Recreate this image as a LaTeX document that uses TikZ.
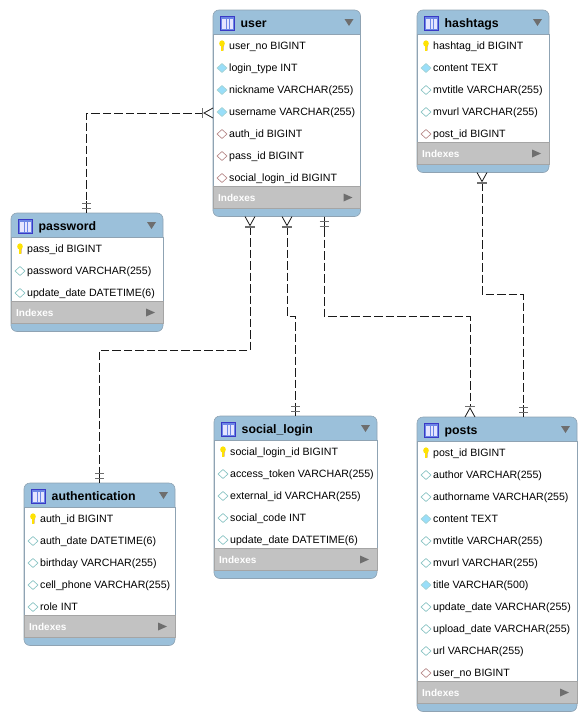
\documentclass[tikz,border=0pt]{standalone}
\usepackage{fontspec}
\setmainfont{Liberation Sans}
\usetikzlibrary{arrows.meta}
\definecolor{kopf}{HTML}{9BC0DA}
\definecolor{rand}{HTML}{8FA3B3}
\definecolor{idx}{HTML}{C2C2C2}
\definecolor{grau}{HTML}{6E6E6E}
\definecolor{kante}{HTML}{1A1A1A}
\tikzset{
  tbl/.style={draw=rand,fill=kopf,rounded corners=6pt,line width=0.6pt,outer sep=0pt,inner sep=0pt,anchor=north west},
  titel/.style={anchor=west,inner sep=0pt,text height=9.5pt,text depth=2.5pt,font=\bfseries\fontsize{12.3}{14}\selectfont},
  feld/.style={anchor=west,inner sep=0pt,text height=7.5pt,text depth=2.5pt,text=black,font=\fontsize{10.6}{12}\selectfont},
  idxtxt/.style={anchor=west,inner sep=0pt,text height=7.5pt,text depth=0.5pt,text=white,font=\bfseries\fontsize{10}{12}\selectfont},
  rel/.style={kante,line width=0.8pt,dash pattern=on 8.5pt off 3pt},
  strich/.style={kante,line width=0.8pt},
  pics/pk/.style={code={
    \fill[yellow!85!orange] (0,-2.5) ellipse (2.8pt and 3.2pt);
    \fill[yellow!85!orange] (-1.3,-1) rectangle (1.3,4.5);
    \draw[orange!70!black,line width=0.3pt] (1.6,0)--(1.4,4.5);}},
  pics/nn/.style={code={\draw[fill=cyan!40!white,draw=teal!35!white,line width=0.6pt] (-5,0)--(0,-4.5)--(5,0)--(0,4.5)--cycle;}},
  pics/nl/.style={code={\draw[fill=white,draw=teal!50!white,line width=0.6pt] (-5,0)--(0,-4.5)--(5,0)--(0,4.5)--cycle;}},
  pics/fk/.style={code={\draw[fill=white,draw=red!25!gray!80!white,line width=0.6pt] (-5,0)--(0,-4.5)--(5,0)--(0,4.5)--cycle;}},
  pics/krahe/.style={code={
    \draw[strich] (-5,0)--(0,9)--(5,0);
    \draw[grau,line width=1.1pt] (-5,10.5)--(5,10.5);}},
  pics/eins/.style={code={
    \draw[strich] (0,0)--(0,12);
    \draw[grau,line width=0.9pt] (-4.5,5)--(4.5,5);
    \draw[grau,line width=0.9pt] (-4.5,10)--(4.5,10);}},
}
% Tabelle: name, x, y, breite, titel, zeilen, felder
\newcommand{\erdtbl}[7]{
  \pgfmathsetmacro{\hges}{52.5+22*#6}
  \pgfmathsetmacro{\yrow}{#3+22.5+22*#6}
  \pgfmathsetmacro{\yidx}{\yrow+21.5}
  \pgfmathsetmacro{\xr}{#2+#4}
  \node[tbl,minimum width=#4pt,minimum height=\hges pt] (#1) at (#2,#3) {};
  \filldraw[fill=white,draw=rand,line width=0.5pt] (#2,#3+24.5) rectangle (\xr,\yrow);
  \filldraw[fill=idx,draw=idx!85!black,line width=0.5pt] (#2,\yrow) rectangle (\xr,\yidx);
  % Kopf
  \filldraw[fill=blue!30!kopf,draw=blue!55!gray,line width=0.6pt] (#2+7,#3+6) rectangle (#2+21,#3+20);
  \fill[blue!10!white] (#2+9,#3+9) rectangle (#2+12.5,#3+18.5);
  \fill[blue!10!white] (#2+13.5,#3+9) rectangle (#2+15.5,#3+18.5);
  \fill[blue!10!white] (#2+16.5,#3+9) rectangle (#2+19.5,#3+18.5);
  \node[titel] (#1-titel) at (#2+27.5,#3+14) {#5};
  \fill[grau] (\xr-16,#3+9)--(\xr-7,#3+9)--(\xr-11.5,#3+16)--cycle;
  % Felder
  \foreach \art/\txt [count=\i] in {#7}{
    \pgfmathsetmacro{\yf}{#3+14+22*\i}
    \path (#2+9,\yf) pic {\art};
    \node[feld] (#1-f\i) at (#2+16,\yf+1) {\txt};
  }
  \node[idxtxt] (#1-idx) at (#2+5,\yrow+11.5) {Indexes};
  \fill[grau] (\xr-17,\yrow+7)--(\xr-8,\yrow+11)--(\xr-17,\yrow+15)--cycle;
}
\begin{document}
\begin{tikzpicture}[x=1pt,y=-1pt]
  \useasboundingbox (0,0) rectangle (586,720);
  \erdtbl{user}{213}{10}{147.5}{user}{7}{pk/user\_no BIGINT,nn/login\_type INT,nn/nickname VARCHAR(255),nn/username VARCHAR(255),fk/auth\_id BIGINT,fk/pass\_id BIGINT,fk/social\_login\_id BIGINT}
  \erdtbl{hashtags}{417}{10}{132}{hashtags}{5}{pk/hashtag\_id BIGINT,nn/content TEXT,nl/mvtitle VARCHAR(255),nl/mvurl VARCHAR(255),fk/post\_id BIGINT}
  \erdtbl{password}{11}{213}{152}{password}{3}{pk/pass\_id BIGINT,nl/password VARCHAR(255),nl/update\_date DATETIME(6)}
  \erdtbl{authentication}{24}{483}{151}{authentication}{5}{pk/auth\_id BIGINT,nl/auth\_date DATETIME(6),nl/birthday VARCHAR(255),nl/cell\_phone VARCHAR(255),nl/role INT}
  \erdtbl{social}{214}{416}{163}{social\_login}{5}{pk/social\_login\_id BIGINT,nl/access\_token VARCHAR(255),nl/external\_id VARCHAR(255),nl/social\_code INT,nl/update\_date DATETIME(6)}
  \erdtbl{posts}{417}{417}{160}{posts}{11}{pk/post\_id BIGINT,nl/author VARCHAR(255),nl/authorname VARCHAR(255),nn/content TEXT,nl/mvtitle VARCHAR(255),nl/mvurl VARCHAR(255),nn/title VARCHAR(500),nl/update\_date VARCHAR(255),nl/upload\_date VARCHAR(255),nl/url VARCHAR(255),fk/user\_no BIGINT}
  % Beziehungen
  \draw[rel,shorten <=10pt] (user.west |- 0,113)--(86,113)--(password.north -| 86,0);
  \draw[rel,shorten <=10pt] (user.south -| 250,0)--(250,350)--(99,350)--(authentication.north -| 99,0);
  \draw[rel,shorten <=10pt] (user.south -| 287,0)--(287,316)--(295,316)--(social.north -| 295,0);
  \draw[rel,shorten >=10pt] (user.south -| 324,0)--(324,316)--(470,316)--(posts.north -| 470,0);
  \draw[rel,shorten <=10pt] (hashtags.south -| 482,0)--(482,294)--(523,294)--(posts.north -| 523,0);
  % Enden
  \path (user.west |- 0,113) pic[rotate=-90] {krahe};
  \path (user.south -| 250,0) pic {krahe};
  \path (user.south -| 287,0) pic {krahe};
  \path (user.south -| 324,0) pic {eins};
  \path (hashtags.south -| 482,0) pic {krahe};
  \path (password.north -| 86,0) pic[rotate=180] {eins};
  \path (authentication.north -| 99,0) pic[rotate=180] {eins};
  \path (social.north -| 295,0) pic[rotate=180] {eins};
  \path (posts.north -| 470,0) pic[rotate=180] {krahe};
  \path (posts.north -| 523,0) pic[rotate=180] {eins};
\end{tikzpicture}
\end{document}
